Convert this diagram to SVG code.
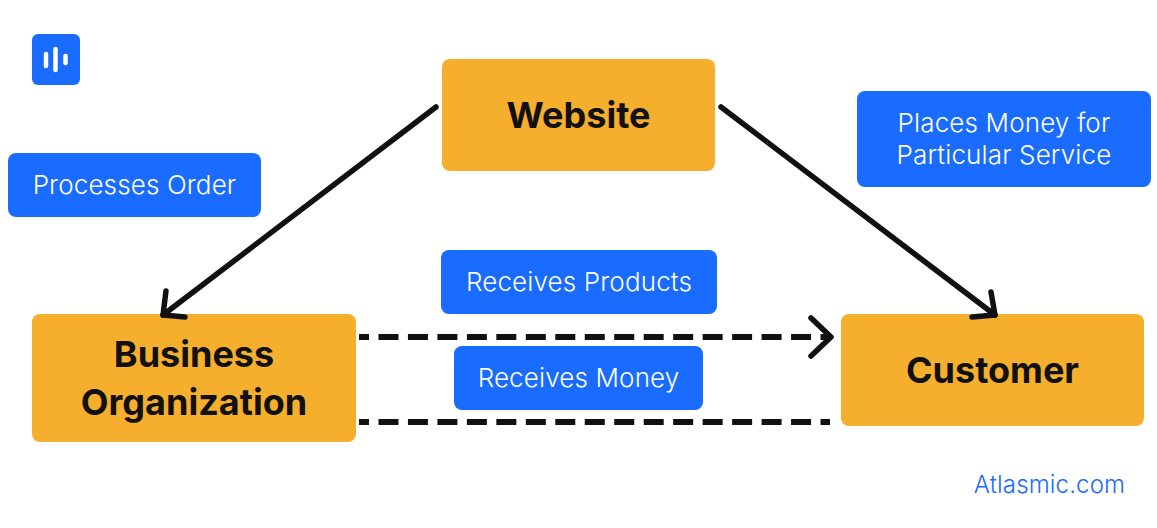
<svg xmlns="http://www.w3.org/2000/svg" width="1157" height="528" viewBox="0 0 1157 528">
<style>
text{font-family:Inter,"Liberation Sans",sans-serif;text-anchor:middle}
.o{fill:#f6ae2d}.b{fill:#1a6bff}
.t{font-size:36px;font-weight:700;fill:#111}
.l{font-size:26px;font-weight:300;fill:#fff;letter-spacing:.14px}
.s{fill:none;stroke:#111;stroke-width:5.500;stroke-linecap:round;stroke-linejoin:round}
.d{fill:none;stroke:#111;stroke-width:6;stroke-dasharray:20 9.47;stroke-dashoffset:10}
</style>
<rect width="1157" height="528" fill="#fff"/>
<g id="logo"><rect class="b" x="32" y="34" width="48" height="51" rx="6"/><path d="M46 54v12M55.500 49v21M65.500 56v7" fill="none" stroke="#fff" stroke-width="4.500" stroke-linecap="round"/></g>
<g id="website"><rect class="o" x="442" y="59" width="273" height="112" rx="8"/><text class="t" x="578.500" y="128">Website</text></g>
<g id="business-organization"><rect class="o" x="32" y="314" width="324" height="128" rx="8"/><text class="t" x="194" y="367">Business</text><text class="t" x="194" y="415">Organization</text></g>
<g id="customer"><rect class="o" x="841" y="314" width="303" height="112" rx="8"/><text class="t" x="992.500" y="383">Customer</text></g>
<g id="processes-order"><rect class="b" x="8" y="153" width="253" height="64" rx="8"/><text class="l" x="134.500" y="194">Processes Order</text></g>
<g id="places-money"><rect class="b" x="857" y="91" width="294" height="96" rx="8"/><text class="l" x="1004" y="132">Places Money for</text><text class="l" x="1004" y="164">Particular Service</text></g>
<g id="receives-products"><rect class="b" x="441" y="250" width="276" height="64" rx="8"/><text class="l" x="579" y="291">Receives Products</text></g>
<g id="receives-money"><rect class="b" x="454" y="346" width="249" height="64" rx="8"/><text class="l" x="578.500" y="387">Receives Money</text></g>
<text x="1049.500" y="493" font-size="24" font-weight="300" letter-spacing=".16" style="fill:#1a6bff">Atlasmic.com</text>
<g id="connectors">
<path class="s" d="M436 107L163 315M721 107L995 315"/>
<path class="s" d="M166 291L163 315L185 317M991 292L995 315L972 317M811 318L831 337L811 356"/>
<path class="d" d="M359 337H828M359 422H830"/>
</g>
</svg>
